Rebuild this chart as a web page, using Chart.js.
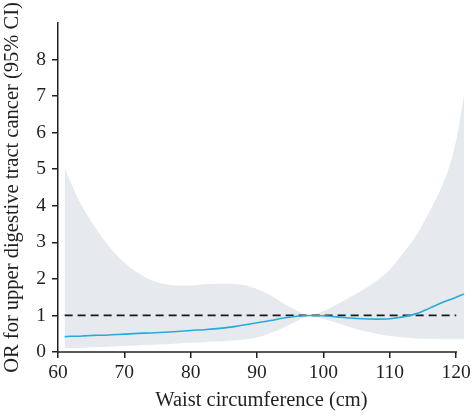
<!DOCTYPE html>
<html>
<head>
<meta charset="utf-8">
<script src="https://cdn.jsdelivr.net/npm/chart.js@4"></script>
<style>
  html, body { margin: 0; padding: 0; background: #fff; }
  #wrap { width: 474px; height: 416px; position: relative; }
</style>
</head>
<body>
<div id="wrap"><canvas id="orChart"></canvas></div>
<script>
// Waist circumference (cm) and odds ratio with 95% CI
const waist = [61, 62, 63, 64, 65, 66, 67, 68, 69, 70, 72, 74, 76, 78, 80, 82, 84, 86, 88, 90,
               92, 94, 96, 97.8, 100, 102, 104, 106, 108, 110, 112, 114, 116, 118, 119, 120, 121.2];
const orValue = [0.42, 0.43, 0.43, 0.44, 0.45, 0.46, 0.46, 0.47, 0.48, 0.49, 0.51, 0.52, 0.54, 0.56, 0.59, 0.61, 0.64, 0.68, 0.74, 0.80,
                 0.86, 0.93, 0.98, 1.00, 0.99, 0.96, 0.93, 0.91, 0.90, 0.91, 0.96, 1.05, 1.20, 1.36, 1.43, 1.50, 1.59];
const ciUpper = [5.03, 4.60, 4.20, 3.87, 3.57, 3.30, 3.05, 2.82, 2.62, 2.45, 2.17, 1.97, 1.86, 1.82, 1.82, 1.85, 1.87, 1.87, 1.83, 1.72,
                 1.55, 1.33, 1.13, 1.00, 1.12, 1.30, 1.50, 1.70, 1.95, 2.25, 2.70, 3.20, 3.85, 4.60, 5.10, 5.80, 7.05];
const ciLower = [0.10, 0.11, 0.11, 0.12, 0.13, 0.14, 0.14, 0.15, 0.16, 0.17, 0.18, 0.20, 0.21, 0.23, 0.25, 0.27, 0.29, 0.31, 0.34, 0.40,
                 0.52, 0.67, 0.85, 1.00, 0.90, 0.80, 0.68, 0.58, 0.50, 0.44, 0.40, 0.37, 0.36, 0.35, 0.35, 0.35, 0.35];

// Reference line OR = 1
const refX = [61, 120];
const refY = [1, 1];

// Axis ticks
const xTicks = [60, 70, 80, 90, 100, 110, 120];
const yTicks = [0, 1, 2, 3, 4, 5, 6, 7, 8];

const textColor = '#231f20';
const serif = "'Liberation Serif', 'DejaVu Serif', serif";

function toPoints(xs, ys) {
    return xs.map((x, i) => ({ x: x, y: ys[i] }));
}

// Bottom axis line only runs from 60 to 120, the band pokes a bit past it
const xAxisLine = {
    id: 'xAxisLine',
    afterDraw(chart) {
        const x = chart.scales.x;
        const y = chart.scales.y;
        const ctx = chart.ctx;
        ctx.save();
        ctx.strokeStyle = textColor;
        ctx.lineWidth = 1.5;
        ctx.beginPath();
        ctx.moveTo(x.getPixelForValue(xTicks[0]) - 0.75, y.getPixelForValue(0));
        ctx.lineTo(x.getPixelForValue(xTicks[xTicks.length - 1]) + 0.75, y.getPixelForValue(0));
        ctx.stroke();
        ctx.restore();
    }
};

new Chart(document.getElementById('orChart'), {
    type: 'line',
    data: {
        datasets: [
            {
                label: 'OR',
                data: toPoints(waist, orValue),
                borderColor: '#29a9dc',
                borderWidth: 1.6,
                pointRadius: 0,
                cubicInterpolationMode: 'monotone',
                fill: false,
                order: 0
            },
            {
                label: 'Reference',
                data: toPoints(refX, refY),
                borderColor: '#1a1a1a',
                borderWidth: 1.8,
                borderDash: [8, 5],
                pointRadius: 0,
                fill: false,
                order: 1
            },
            {
                label: 'Upper CI',
                data: toPoints(waist, ciUpper),
                borderWidth: 0,
                borderColor: 'rgba(0,0,0,0)',
                backgroundColor: '#e6e9ee',
                pointRadius: 0,
                cubicInterpolationMode: 'monotone',
                fill: '+1',
                order: 2
            },
            {
                label: 'Lower CI',
                data: toPoints(waist, ciLower),
                borderWidth: 0,
                borderColor: 'rgba(0,0,0,0)',
                pointRadius: 0,
                cubicInterpolationMode: 'monotone',
                fill: false,
                order: 3
            }
        ]
    },
    options: {
        responsive: true,
        maintainAspectRatio: false,
        animation: false,
        layout: { padding: { top: 23, right: 7, left: 0, bottom: 0 } },
        plugins: {
            legend: { display: false },
            tooltip: { enabled: false }
        },
        scales: {
            x: {
                type: 'linear',
                min: 60,
                max: 121.3,
                afterBuildTicks: function(scale) {
                    scale.ticks = xTicks.map(v => ({ value: v }));
                },
                afterFit: function(scale) { scale.height = 64; },
                border: { display: false },
                grid: { drawOnChartArea: false, tickLength: 6, color: textColor, lineWidth: 1.5 },
                ticks: {
                    color: textColor,
                    padding: 3,
                    font: { family: serif, size: 19.5 },
                    maxRotation: 0
                },
                title: {
                    display: true,
                    text: 'Waist circumference (cm)',
                    color: textColor,
                    font: { family: serif, size: 20.5 },
                    padding: { top: 0, bottom: 3 }
                }
            },
            y: {
                min: 0,
                max: 9,
                afterBuildTicks: function(scale) {
                    scale.ticks = yTicks.map(v => ({ value: v }));
                },
                afterFit: function(scale) { scale.width = 58; },
                border: { display: true, color: textColor, width: 1.5 },
                grid: { drawOnChartArea: false, tickLength: 6, color: textColor, lineWidth: 1.5 },
                ticks: {
                    color: textColor,
                    padding: 6,
                    font: { family: serif, size: 19.5 }
                },
                title: {
                    display: true,
                    text: 'OR for upper digestive tract cancer (95% CI)',
                    color: textColor,
                    font: { family: serif, size: 20.5 },
                    padding: { top: 0, bottom: 0 }
                }
            }
        }
    },
    plugins: [xAxisLine]
});
</script>
</body>
</html>
